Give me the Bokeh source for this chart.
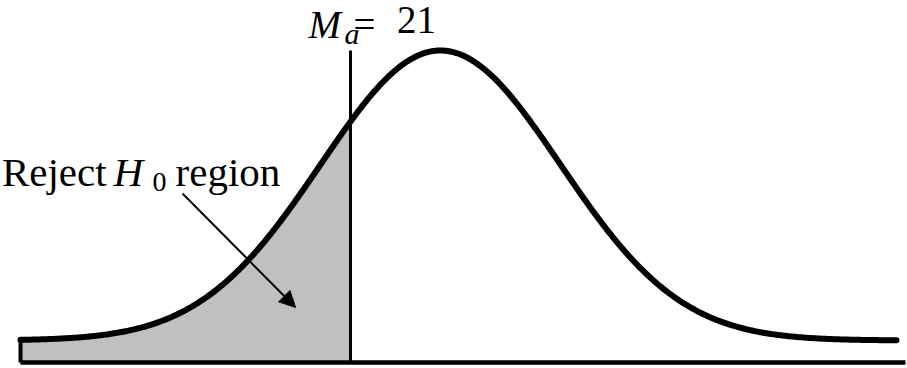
import numpy as np
from bokeh.plotting import figure
from bokeh.models import Range1d, Arrow, NormalHead
from bokeh.core.properties import value
from bokeh.embed import file_html
from bokeh.resources import INLINE

# ---- chart values ----
mean_value = 24.0          # centre of the distribution
sd_value = 4.0             # spread of the distribution
critical_value = 21.0      # M_a = 21
x_min, x_max = 10.0, 39.2  # extent of the drawn curve
axis_end = 39.5
peak_height = 290.0        # curve height above its own base
curve_base = 22.0          # curve tails sit above the baseline axis
label_top = ["M", "a", "=", "21"]
label_reject = ["Reject", "H", "0", "region"]

xs = np.linspace(x_min, x_max, 600)
ys = curve_base + peak_height * np.exp(-0.5 * ((xs - mean_value) / sd_value) ** 2)
y_crit = curve_base + peak_height * np.exp(-0.5 * ((critical_value - mean_value) / sd_value) ** 2)
mask = xs <= critical_value
xs_fill = np.append(xs[mask], critical_value)
ys_fill = np.append(ys[mask], y_crit)

p = figure(width=907, height=368, output_backend="svg", toolbar_location=None,
           x_range=Range1d(9.333, 39.567), y_range=Range1d(-6, 362),
           min_border=0, outline_line_color=None, background_fill_color="white")
p.axis.visible = False
p.grid.visible = False

p.varea(x=xs_fill, y1=np.zeros_like(xs_fill), y2=ys_fill, fill_color="#c0c0c0")
p.line(x=[x_min, x_min], y=[0, curve_base], line_color="black", line_width=4)
p.line(x=[x_min, axis_end], y=[0, 0], line_color="black", line_width=4.5)
p.line(x=[critical_value, critical_value], y=[0, 312], line_color="black", line_width=3)
p.line(x=xs, y=ys, line_color="black", line_width=6, line_join="round", line_cap="round")

font = value("Liberation Serif")
def lab(x, y, t, size, style="normal"):
    p.text(x=[x], y=[y], text=[t], text_font=font, text_font_size=size,
           text_font_style=style, text_baseline="top", text_align="left",
           text_color="black")

# M_a = 21
lab(19.6, 360, label_top[0], "39px", "italic")
lab(20.8, 346, label_top[1], "30px", "italic")
lab(21.1, 360, label_top[2], "39px")
lab(22.55, 356, label_top[3], "39px")

# Reject H0 region
lab(9.38, 213.5, label_reject[0], "41px")
lab(13.1, 213.5, label_reject[1], "41px", "italic")
lab(14.4, 190, label_reject[2], "28px")
lab(15.17, 213.5, label_reject[3], "41px")

p.add_layout(Arrow(end=NormalHead(size=16, fill_color="black", line_color="black"),
                   x_start=15.4, y_start=169, x_end=19.17, y_end=55,
                   line_color="black", line_width=2))

open("out.html", "w").write(file_html(p, INLINE))
